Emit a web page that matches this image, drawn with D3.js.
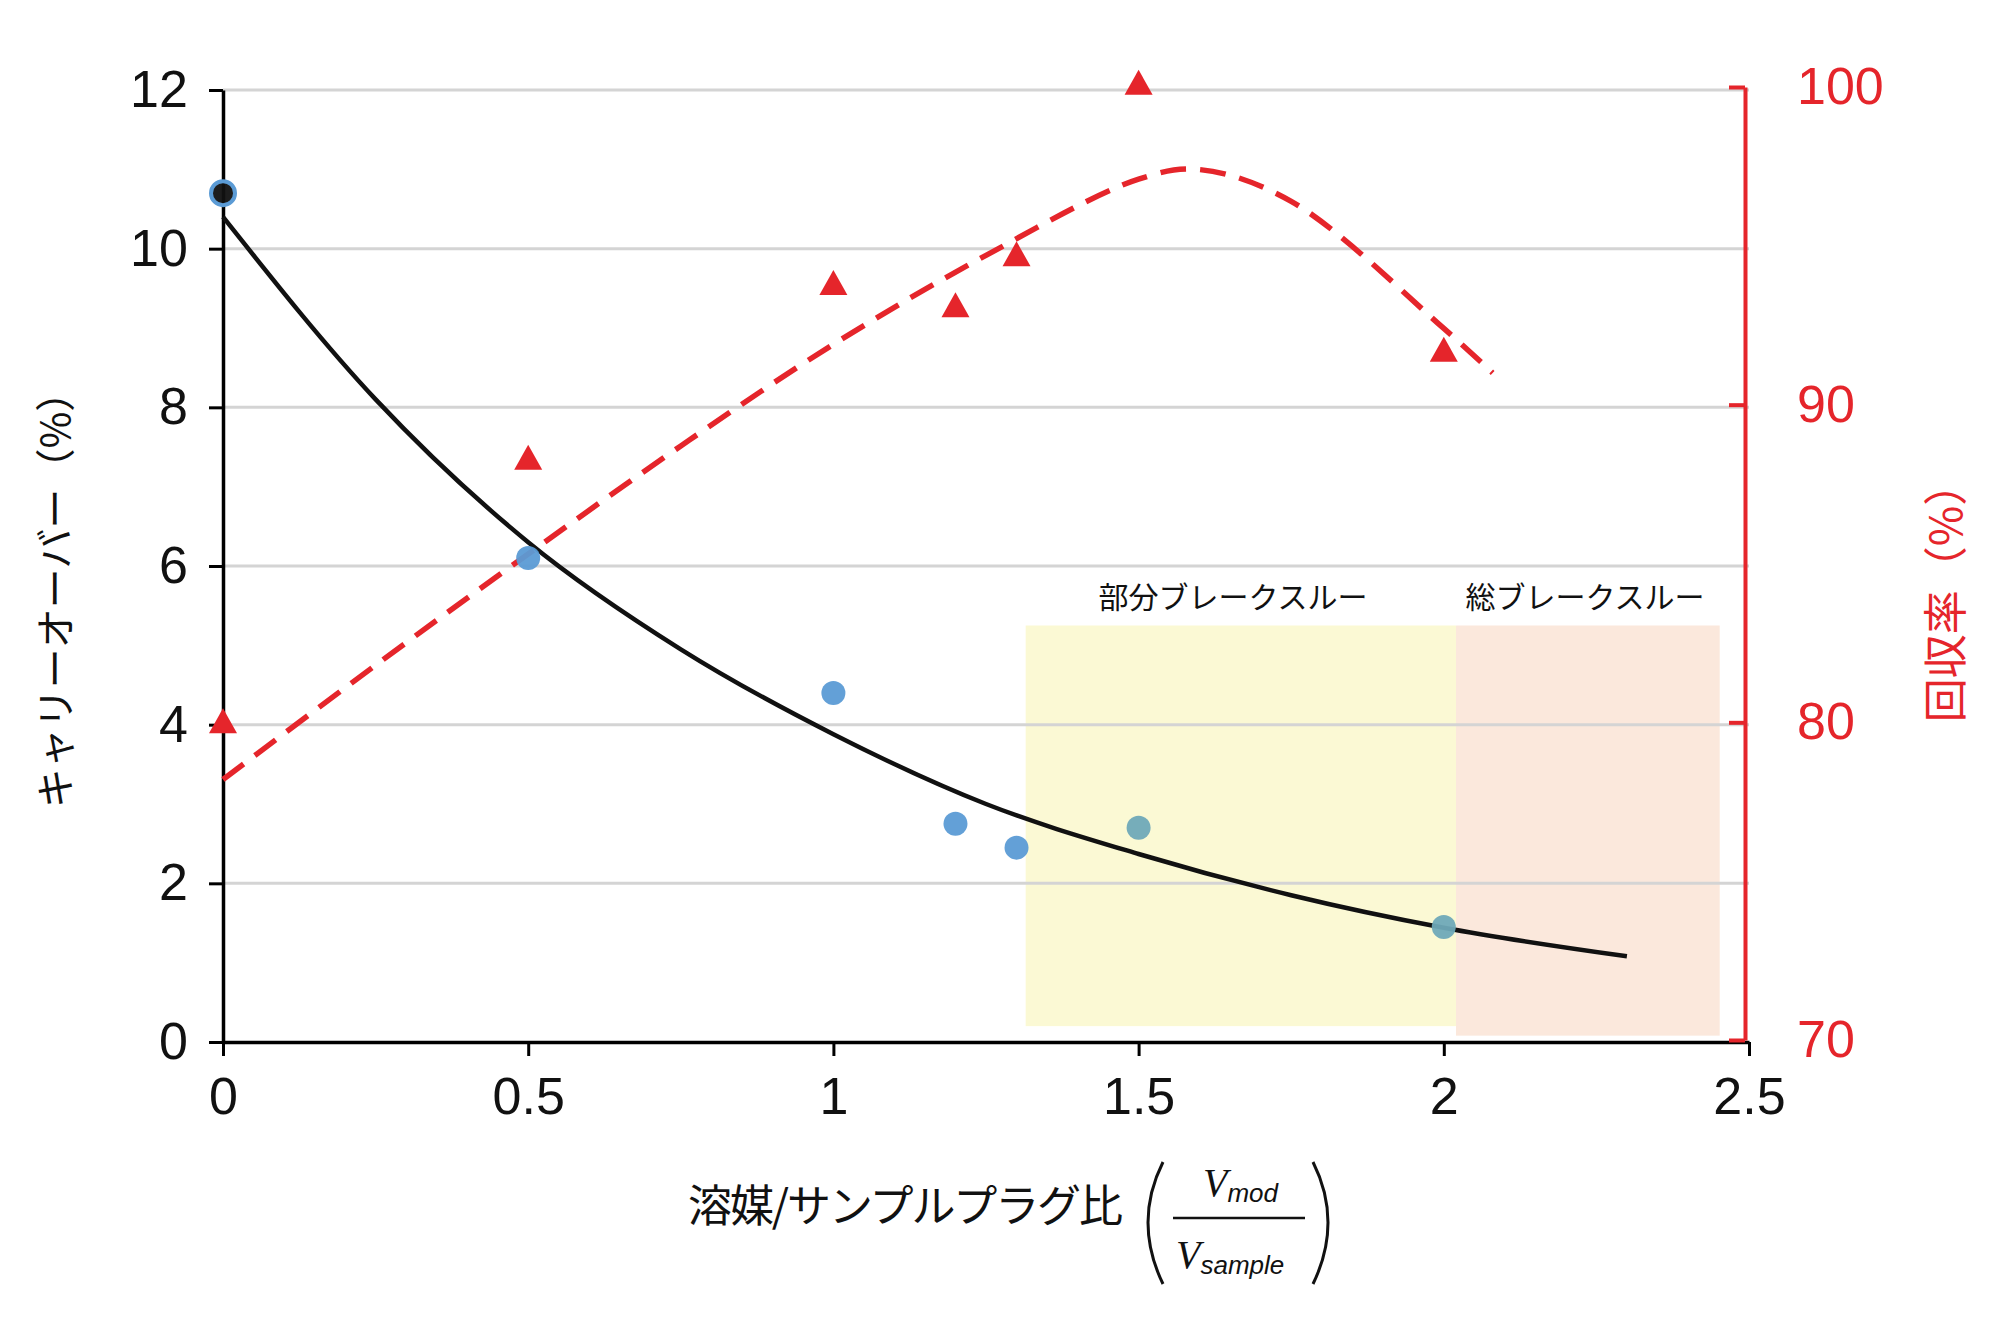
<!DOCTYPE html>
<html><head><meta charset="utf-8">
<script src="https://cdn.jsdelivr.net/npm/d3@7"></script>
<style>body{margin:0;background:#fff}</style></head>
<body><svg id="c" width="2000" height="1333"></svg>
<script>
const carryX = [0, 0.5, 1, 1.2, 1.3, 1.5, 2];
const carryY = [10.7, 6.1, 4.4, 2.75, 2.45, 2.7, 1.45];
const recX = [0, 0.5, 1, 1.2, 1.3, 1.5, 2];
const recY = [80.0, 88.3, 93.8, 93.1, 94.7, 100.1, 91.7];
const fitCarryX = [0, 0.25, 0.5, 0.75, 1, 1.25, 1.5, 1.75, 2, 2.3];
const fitCarryY = [10.4, 8.1, 6.3, 4.95, 3.88, 3.0, 2.37, 1.85, 1.44, 1.08];
const fitRecX = [0, 0.25, 0.5, 0.75, 1, 1.25, 1.5, 1.6, 1.75, 2, 2.08];
const fitRecY = [78.2, 81.8, 85.3, 88.7, 91.9, 94.7, 97.1, 97.4, 96.4, 92.4, 91.0];
const xTicks = [0, 0.5, 1, 1.5, 2, 2.5];
const yTicks = [0, 2, 4, 6, 8, 10, 12];
const y2Ticks = [70, 80, 90, 100];
const regions = [{x0:1.315,x1:2.02,top:5.25,bot:0.2,label:"部分ブレークスルー"},{x0:2.02,x1:2.452,top:5.25,bot:0.08,label:"総ブレークスルー"}];

const RED="#e5252b", BLUE="#5b9bd5";
const svg=d3.select("#c");
const x=d3.scaleLinear().domain([0,2.5]).range([223,1749]);
const y=d3.scaleLinear().domain([0,12]).range([1042,90]);
const y2=d3.scaleLinear().domain([70,100]).range([1040,87]);
const num="Liberation Sans, Arial, sans-serif", jp="Noto Sans CJK JP, sans-serif";

regions.forEach((r,i)=>{
  svg.append("rect").attr("x",x(r.x0)).attr("width",x(r.x1)-x(r.x0))
    .attr("y",y(r.top)).attr("height",y(r.bot)-y(r.top))
    .attr("fill",i==0?"#fbf9d4":"#fbe8dc");
  svg.append("text").attr("x",i==0?1233:1585).attr("y",608).attr("text-anchor","middle")
    .attr("font-family",jp).attr("font-size",30).attr("fill","#111").text(r.label);
});
svg.selectAll(".g").data(yTicks.filter(d=>d>0)).join("line")
  .attr("x1",x(0)).attr("x2",x(2.5)).attr("y1",d=>y(d)).attr("y2",d=>y(d))
  .attr("stroke","#d4d4d4").attr("stroke-width",3);

const gx=svg.append("g").attr("transform",`translate(0,${y(0)})`)
  .call(d3.axisBottom(x).tickValues(xTicks).tickFormat(d3.format("")).tickSize(14).tickSizeOuter(0));
const gy=svg.append("g").attr("transform",`translate(${x(0)},0)`)
  .call(d3.axisLeft(y).tickValues(yTicks).tickSize(14).tickSizeOuter(0));
[gx,gy].forEach(g=>{g.select(".domain").attr("stroke","#000").attr("stroke-width",3.5);
  g.selectAll(".tick line").attr("stroke","#000").attr("stroke-width",3);
  g.selectAll("text").attr("font-family",num).attr("font-size",52).attr("fill","#111");});
gx.selectAll("text").attr("dy","1.05em");
gy.selectAll("text").attr("dx","-0.35em");
const gy2=svg.append("g").attr("transform",`translate(${x(2.5)-4},0)`)
  .call(d3.axisLeft(y2).tickValues(y2Ticks).tickSize(16).tickSizeOuter(0));
gy2.select(".domain").attr("stroke",RED).attr("stroke-width",4);
gy2.selectAll(".tick line").attr("stroke",RED).attr("stroke-width",4);
gy2.selectAll("text").attr("x",52).attr("text-anchor","start").attr("font-family",num).attr("font-size",52).attr("fill",RED);

svg.append("path").datum(fitCarryX.map((d,i)=>[d,fitCarryY[i]]))
  .attr("d",d3.line().x(d=>x(d[0])).y(d=>y(d[1])).curve(d3.curveMonotoneX))
  .attr("fill","none").attr("stroke","#111").attr("stroke-width",4.5);
svg.append("path").datum(fitRecX.map((d,i)=>[d,fitRecY[i]]))
  .attr("d",d3.line().x(d=>x(d[0])).y(d=>y2(d[1])).curve(d3.curveCatmullRom))
  .attr("fill","none").attr("stroke",RED).attr("stroke-width",5.5).attr("stroke-dasharray","26,14");

svg.selectAll(".p").data(carryX.map((d,i)=>[d,carryY[i]])).join("circle")
  .attr("cx",d=>x(d[0])).attr("cy",d=>y(d[1])).attr("r",12)
  .attr("fill",(d,i)=>i==0?"#111":(d[0]>=1.5?"#6fa9b8":BLUE)).attr("fill-opacity",0.95)
  .attr("stroke",BLUE).attr("stroke-width",(d,i)=>i==0?4:0);
svg.selectAll(".t").data(recX.map((d,i)=>[d,recY[i]])).join("path")
  .attr("transform",d=>`translate(${x(d[0])},${y2(d[1])})`)
  .attr("d","M0,-14L14,11L-14,11Z").attr("fill",RED);

svg.append("text").attr("transform","translate(70,590) rotate(-90)").attr("text-anchor","middle")
  .attr("font-family",jp).attr("font-size",40).attr("fill","#111").text("キャリーオーバー（%）");
svg.append("text").attr("transform","translate(1962,592) rotate(-90)").attr("text-anchor","middle")
  .attr("font-family",jp).attr("font-size",44).attr("fill",RED).text("回収率（%）");
svg.append("text").attr("x",688).attr("y",1222).attr("font-family",jp).attr("font-size",44)
  .attr("fill","#111").attr("textLength",435).text("溶媒/サンプルプラグ比");
// parentheses drawn as thin curved strokes
svg.append("path").attr("d","M1163,1162 Q1133,1222 1163,1284").attr("fill","none").attr("stroke","#111").attr("stroke-width",3);
svg.append("path").attr("d","M1313,1162 Q1343,1222 1313,1284").attr("fill","none").attr("stroke","#111").attr("stroke-width",3);
svg.append("line").attr("x1",1173).attr("x2",1305).attr("y1",1218).attr("y2",1218).attr("stroke","#111").attr("stroke-width",2.5);
const v1=svg.append("text").attr("x",1203).attr("y",1196).attr("font-family","Liberation Serif, serif").attr("font-style","italic").attr("font-size",40).attr("fill","#111");
v1.append("tspan").text("V");
v1.append("tspan").attr("font-family",num).attr("font-size",26).attr("dy",6).text("mod");
const v2=svg.append("text").attr("x",1176).attr("y",1268).attr("font-family","Liberation Serif, serif").attr("font-style","italic").attr("font-size",40).attr("fill","#111");
v2.append("tspan").text("V");
v2.append("tspan").attr("font-family",num).attr("font-size",26).attr("dy",6).text("sample");
</script></body></html>
